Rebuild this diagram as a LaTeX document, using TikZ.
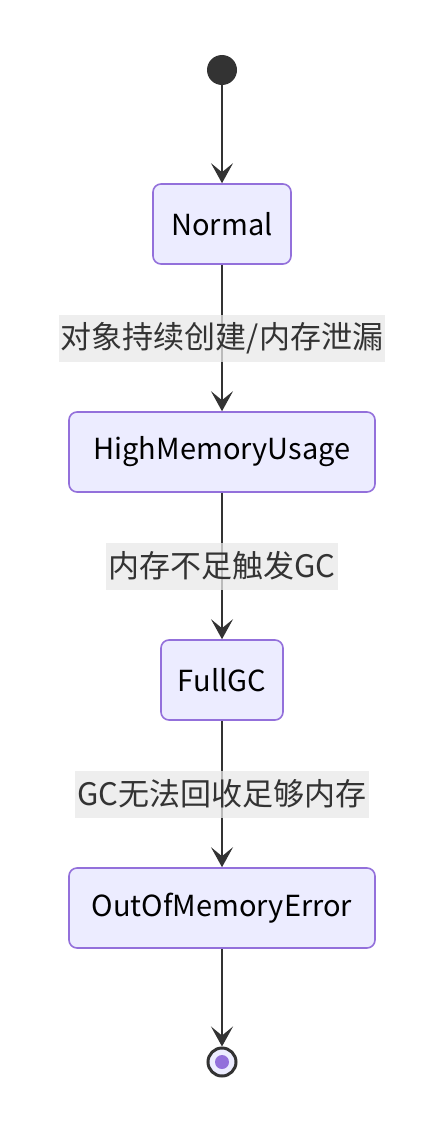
\documentclass[tikz,border=0pt]{standalone}
\usepackage{fontspec}
\setmainfont{Noto Sans CJK SC}
\usetikzlibrary{arrows.meta}
\definecolor{boxfill}{HTML}{ECECFF}
\definecolor{boxline}{HTML}{9370DB}
\definecolor{edgeline}{HTML}{333333}
\definecolor{labelfill}{HTML}{E8E8E8}

\tikzstyle{statebox} = [draw=boxline, fill=boxfill, line width=1.6pt, rectangle, rounded corners=8pt, minimum height=80pt, font=\fontsize{29}{34}\selectfont, text=black]
\tikzstyle{edgelabel} = [fill=labelfill, fill opacity=0.75, text opacity=1, inner xsep=2pt, minimum height=47pt, font=\fontsize{31}{36}\selectfont, text=black!80]
\tikzstyle{trans} = [draw=edgeline, line width=1.6pt, -{Stealth[length=20pt, width=22pt, inset=9pt]}]

\begin{document}
\begin{tikzpicture}[x=1pt, y=-1pt]
\useasboundingbox (0,0) rectangle (444,1132);
% start and end points
\node [circle, fill=edgeline, minimum size=30pt, inner sep=0pt] (start) at (222,70) {};
\node [circle, draw=edgeline, fill=boxfill, line width=3pt, minimum size=28pt, inner sep=0pt] (finish) at (222,1062) {};
\fill [boxline] (finish.center) circle (7pt);
% states
\node [statebox, minimum width=138pt] (normal) at (222,224) {Normal};
\node [statebox, minimum width=306pt] (high) at (222,452) {HighMemoryUsage};
\node [statebox, minimum width=122pt] (fullgc) at (222,680) {FullGC};
\node [statebox, minimum width=306pt] (oom) at (222,908) {OutOfMemoryError};
% transitions
\draw [trans] (start) -- (normal);
\draw [trans] (normal) -- node [edgelabel] {对象持续创建/内存泄漏} (high);
\draw [trans] (high) -- node [edgelabel] {内存不足触发GC} (fullgc);
\draw [trans] (fullgc) -- node [edgelabel] {GC无法回收足够内存} (oom);
\draw [trans] (oom) -- (finish);
\end{tikzpicture}
\end{document}
